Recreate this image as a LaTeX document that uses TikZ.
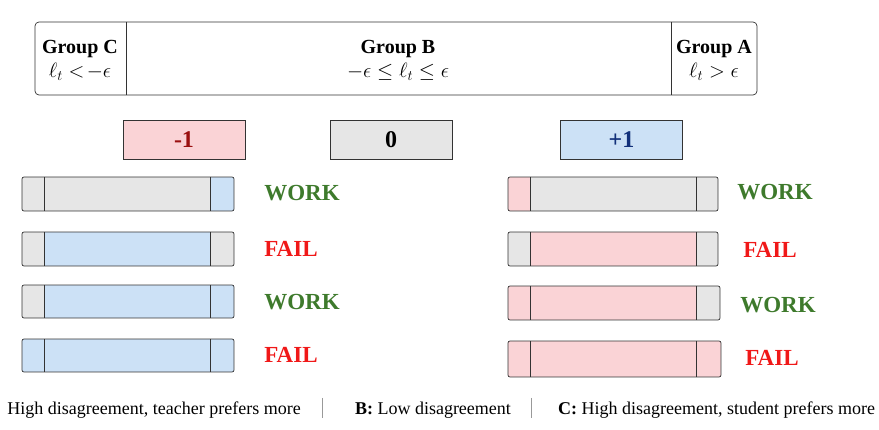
\documentclass[tikz,border=0pt]{standalone}
\usepackage{fontspec}
\setmainfont{Liberation Serif}
\usepackage{amsmath}
\usetikzlibrary{positioning}
\definecolor{pinkc}{HTML}{FAD3D6}
\definecolor{grayc}{HTML}{E6E6E6}
\definecolor{bluec}{HTML}{CCE1F6}
\definecolor{workc}{HTML}{3E7A2C}
\definecolor{failc}{HTML}{F01818}
\definecolor{negc}{HTML}{9A1010}
\definecolor{posc}{HTML}{12307A}
\tikzset{
  seg/.style={draw=black!80, line width=0.7pt},
  valbox/.style={draw=black!80, line width=0.7pt, minimum width=122pt, minimum height=39pt, font=\fontsize{24}{26}\selectfont\bfseries},
  work/.style={text=workc, font=\fontsize{23}{25}\selectfont\bfseries},
  fail/.style={text=failc, font=\fontsize{23}{25}\selectfont\bfseries},
  grp/.style={align=center, font=\fontsize{20}{24}\selectfont},
  legend/.style={font=\fontsize{18}{20}\selectfont}
}
\newcommand{\segbar}[6]{% x0 x1 x2 x3 y0 y1 , fills via \fa \fb \fc
  \fill[\fa] (#1,#5) rectangle (#2,#6);
  \fill[\fb] (#2,#5) rectangle (#3,#6);
  \fill[\fc] (#3,#5) rectangle (#4,#6);
  \draw[seg, rounded corners=2pt] (#1,#5) rectangle (#4,#6);
  \draw[seg] (#2,#5) -- (#2,#6) (#3,#5) -- (#3,#6);
}
\begin{document}
\begin{tikzpicture}[x=1pt, y=-1pt]
\useasboundingbox (0,0) rectangle (879,430);

% Groups
\draw[seg, rounded corners=4pt] (35,22) rectangle (757,95);
\draw[seg] (126,22) -- (126,95) (671,22) -- (671,95);
\node[grp] (grpC) at (80,60) {\textbf{Group C}\\$\ell_t <\!- \epsilon$};
\node[grp] (grpB) at (398,60) {\textbf{Group B}\\$-\epsilon \leq \ell_t \leq \epsilon$};
\node[grp] (grpA) at (714,60) {\textbf{Group A}\\$\ell_t > \epsilon$};

% Values
\node[valbox, fill=pinkc, text=negc] (neg) at (184,139.5) {-1};
\node[valbox, fill=grayc] (zero) at (391,139.5) {0};
\node[valbox, fill=bluec, text=posc] (pos) at (621.5,139.5) {+1};

% Left bars
\foreach \ya/\yb/\ca/\cb/\cc in {177/211/grayc/grayc/bluec, 232/266/grayc/bluec/grayc, 285/318/grayc/bluec/bluec, 339/372/bluec/bluec/bluec}{
  \def\fa{\ca}\def\fb{\cb}\def\fc{\cc}
  \segbar{22}{44}{210}{234}{\ya}{\yb}
}
% Right bars
\foreach \ya/\yb/\xe/\ca/\cb/\cc in {177/211/718/pinkc/grayc/grayc, 232/266/718/grayc/pinkc/grayc, 286/320/720/pinkc/pinkc/grayc, 341/377/721/pinkc/pinkc/pinkc}{
  \def\fa{\ca}\def\fb{\cb}\def\fc{\cc}
  \segbar{508}{530}{696}{\xe}{\ya}{\yb}
}

% Outcomes
\node[work] (lw1) at (302,193) {WORK};
\node[fail] (lf1) at (291,249) {FAIL};
\node[work] (lw2) at (302,302) {WORK};
\node[fail] (lf2) at (291,355) {FAIL};
\node[work] (rw1) at (775,192) {WORK};
\node[fail] (rf1) at (770,250) {FAIL};
\node[work] (rw2) at (778,305) {WORK};
\node[fail] (rf2) at (772,358) {FAIL};

% Legend
\node[legend, anchor=east, inner sep=0pt] (legA) at (301,410) {High disagreement, teacher prefers more};
\node[legend] (legB) at (433,410) {\textbf{B:} Low disagreement};
\node[legend, anchor=west, inner sep=0pt] (legC) at (558,410) {\textbf{C:} High disagreement, student prefers more};
\draw[black!40, line width=0.6pt] (322,398) -- (322,418) (531,398) -- (531,418);
\end{tikzpicture}
\end{document}
